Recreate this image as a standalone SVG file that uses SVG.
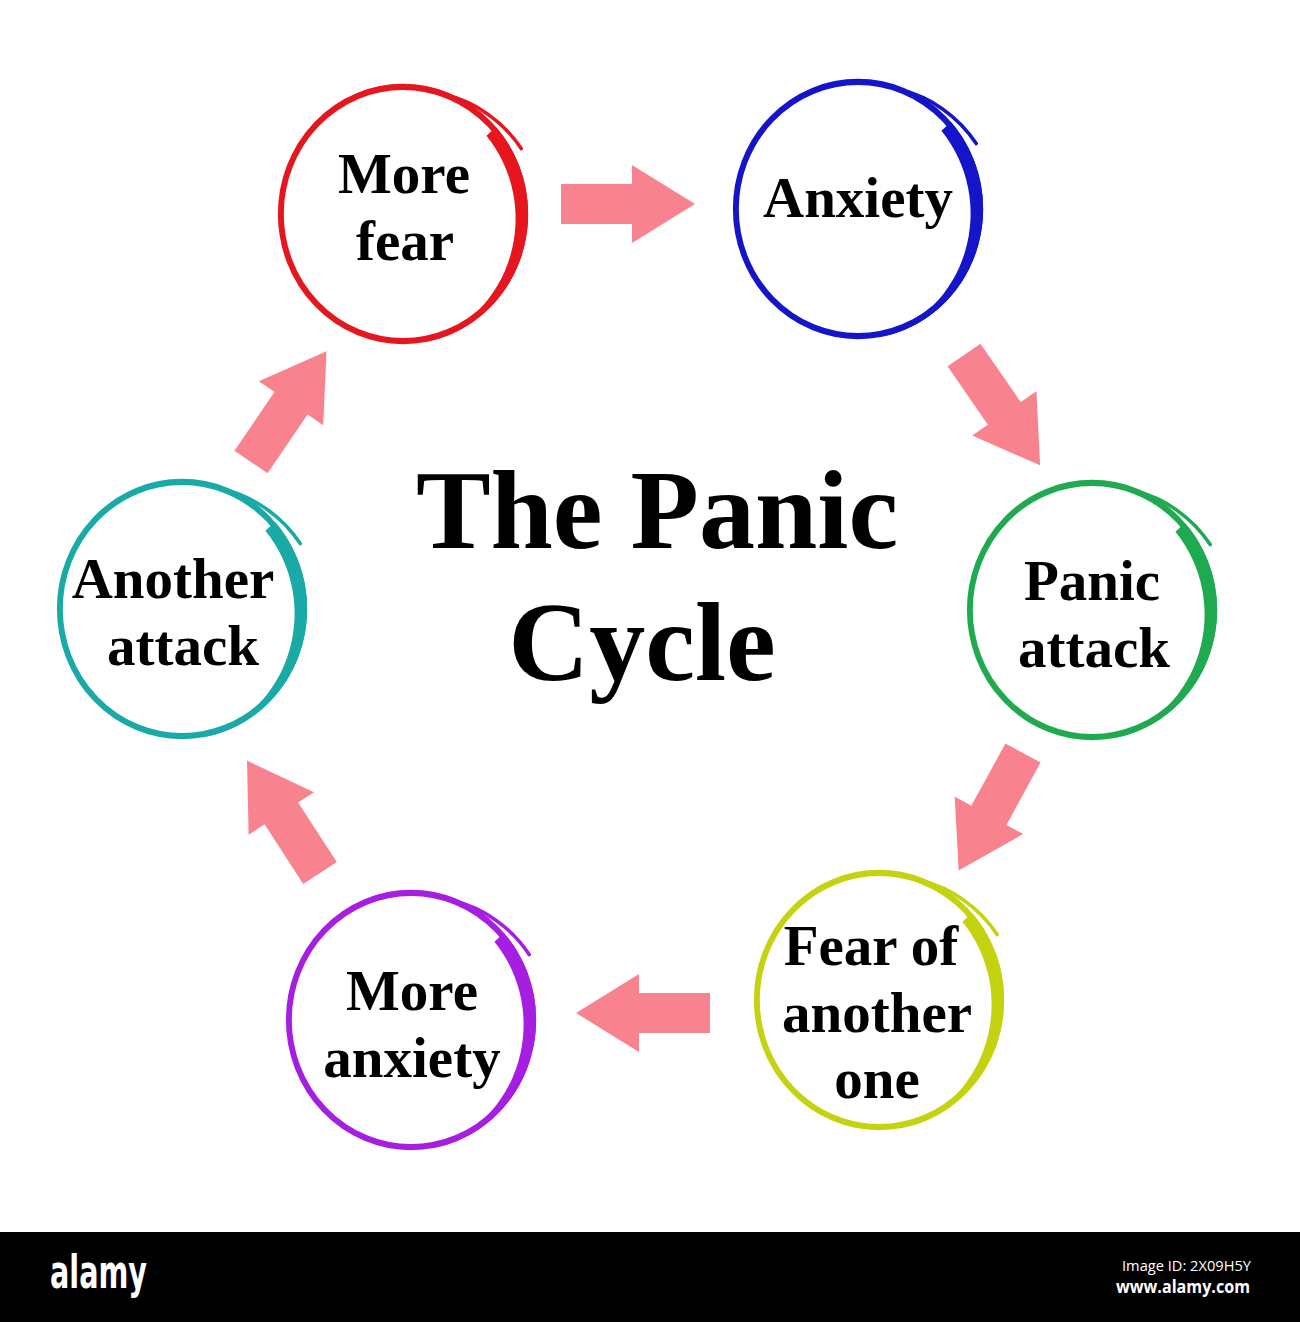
<svg xmlns="http://www.w3.org/2000/svg" xmlns:xlink="http://www.w3.org/1999/xlink" width="1300" height="1322" viewBox="0 0 1300 1322">
<style>
.lbl{font-family:"Liberation Serif","Times New Roman",serif;font-weight:bold;font-size:57px;fill:#000;text-anchor:middle}
.title{font-family:"Liberation Serif","Times New Roman",serif;font-weight:bold;font-size:112px;fill:#000;text-anchor:middle}
.arrow{fill:#F8838F}
.ring-line{fill:none;stroke:currentColor}
.ring-fill{fill:currentColor;stroke:none}
</style>
<defs>
<g id="ring">
<circle class="ring-line" r="124" stroke-width="6"/>
<path class="ring-fill" d="M94.4,-85.0 A127,127 0 0 1 22.1,125.1 A125,125 0 0 0 84.7,-76.3 Z"/>
<path class="ring-line" d="M42.4,-116.5 A130,130 0 0 1 120.1,-63.8" stroke-width="3.5" stroke-linecap="round"/>
</g>
<path id="arr" d="M0,-20 H71 V-39 L134,0 L71,39 V20 H0 Z"/>
</defs>
<rect width="1300" height="1322" fill="#fff"/>

<g id="connectors" class="arrow">
<use xlink:href="#arr" transform="translate(561,204)"/>
<use xlink:href="#arr" transform="translate(964,355) rotate(55.4)"/>
<use xlink:href="#arr" transform="translate(1023,753) rotate(118.7)"/>
<use xlink:href="#arr" transform="translate(710,1013) rotate(180)"/>
<use xlink:href="#arr" transform="translate(320,873) rotate(237)"/>
<use xlink:href="#arr" transform="translate(251,462) rotate(-55.7)"/>
</g>

<g id="node-more-fear">
<use xlink:href="#ring" color="#E5161E" transform="translate(403,214) scale(0.985,1.025)"/>
<text class="lbl" x="404" y="193">More</text>
<text class="lbl" x="405" y="260">fear</text>
</g>

<g id="node-anxiety">
<use xlink:href="#ring" color="#1414C8" transform="translate(858,209) scale(0.985,1.025)"/>
<text class="lbl" x="858" y="217">Anxiety</text>
</g>

<g id="node-panic-attack">
<use xlink:href="#ring" color="#1FAA50" transform="translate(1092,610) scale(0.985,1.025)"/>
<text class="lbl" x="1092" y="600">Panic</text>
<text class="lbl" x="1094" y="667">attack</text>
</g>

<g id="node-fear-of-another-one">
<use xlink:href="#ring" color="#C5D20F" transform="translate(879,1000) scale(0.985,1.025)"/>
<text class="lbl" x="871" y="965">Fear of</text>
<text class="lbl" x="877" y="1032">another</text>
<text class="lbl" x="877" y="1098">one</text>
</g>

<g id="node-more-anxiety">
<use xlink:href="#ring" color="#A61EE0" transform="translate(411,1020) scale(0.985,1.025)"/>
<text class="lbl" x="412" y="1010">More</text>
<text class="lbl" x="412" y="1077">anxiety</text>
</g>

<g id="node-another-attack">
<use xlink:href="#ring" color="#19A9A6" transform="translate(182,609) scale(0.985,1.025)"/>
<text class="lbl" x="173" y="598">Another</text>
<text class="lbl" x="183" y="665">attack</text>
</g>

<g id="title">
<text class="title" x="657" y="548">The Panic</text>
<text class="title" x="642" y="680">Cycle</text>
</g>

<g id="banner">
<rect x="0" y="1232" width="1300" height="90" fill="#000"/>
<text x="50" y="1288" font-family="DejaVu Sans, sans-serif" font-weight="bold" font-size="46" fill="#fff" textLength="97" lengthAdjust="spacingAndGlyphs">alamy</text>
<text x="1122" y="1271" font-family="Open Sans, sans-serif" font-size="15" fill="#fff" textLength="129" lengthAdjust="spacingAndGlyphs">Image ID: 2X09H5Y</text>
<text x="1116" y="1293" font-family="Open Sans, sans-serif" font-weight="bold" font-size="17" fill="#fff" textLength="134" lengthAdjust="spacingAndGlyphs">www.alamy.com</text>
</g>
</svg>
